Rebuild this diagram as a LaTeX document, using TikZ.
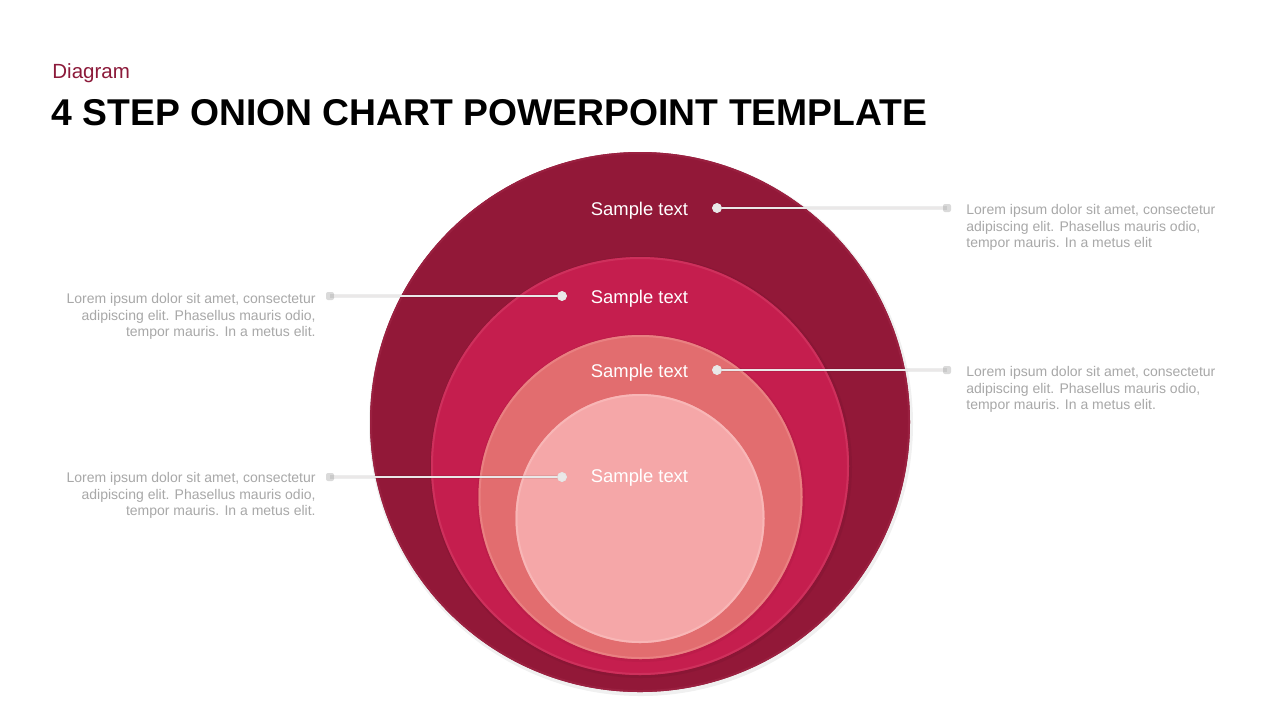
\documentclass[tikz,border=0pt]{standalone}
\usepackage{fontspec}
\setmainfont{Liberation Sans}
\definecolor{ringA}{RGB}{146,24,56}
\definecolor{ringArim}{RGB}{154,32,64}
\definecolor{ringB}{RGB}{197,30,78}
\definecolor{ringBrim}{RGB}{206,48,92}
\definecolor{ringC}{RGB}{226,109,111}
\definecolor{ringCrim}{RGB}{233,128,129}
\definecolor{ringD}{RGB}{245,167,168}
\definecolor{ringDrim}{RGB}{248,182,182}
\definecolor{titlered}{RGB}{140,26,58}
\definecolor{loremgray}{RGB}{168,168,168}
\definecolor{connline}{RGB}{234,232,232}
\definecolor{connend}{RGB}{218,218,218}
\tikzset{
  sample/.style={font=\fontsize{9.2pt}{11pt}\selectfont, text=white, inner sep=0pt, anchor=base},
  lorem/.style={font=\fontsize{7pt}{8.25pt}\selectfont, text=loremgray, inner sep=0pt},
  dotnode/.style={circle, fill=connline, draw=white!80!gray, line width=0.3pt, minimum size=4.5pt, inner sep=0pt},
  endnode/.style={rectangle, rounded corners=1pt, fill=connend, minimum size=4pt, inner sep=0pt},
  connector/.style={draw=connline, line width=1.4pt},
  connshadow/.style={draw=black, opacity=0.07, line width=2.4pt},
}
\begin{document}
\begin{tikzpicture}[x=0.5pt,y=-0.5pt]
\useasboundingbox (0,0) rectangle (1280,720);
\fill[white] (0,0) rectangle (1280,720);
% titles
\node[font=\fontsize{10.25pt}{12pt}\selectfont, text=titlered, anchor=base west, inner sep=0pt] (sub) at (52,78) {Diagram};
\node[font=\fontsize{18.65pt}{22pt}\selectfont\bfseries, text=black, anchor=base west, inner sep=0pt] (title) at (51,125) {4 STEP ONION CHART POWERPOINT TEMPLATE};
% rings
\fill[black, opacity=0.06] (641,424) circle (272);
\fill[ringA] (640,422) circle (270);
\draw[ringArim, line width=1pt] (640,422) circle (269);
\fill[black, opacity=0.05] (641,467) circle (211);
\fill[ringB] (640,466) circle (209);
\draw[ringBrim, line width=1pt] (640,466) circle (208);
\fill[black, opacity=0.04] (641,498) circle (164);
\fill[ringC] (640.5,497) circle (162);
\draw[ringCrim, line width=1pt] (640.5,497) circle (161);
\fill[ringD] (640,518.5) circle (124.5);
\draw[ringDrim, line width=1pt] (640,518.5) circle (123.5);
% sample texts
\node[sample] (s1) at (639.5,215) {Sample text};
\node[sample] (s2) at (639.5,303) {Sample text};
\node[sample] (s3) at (639.5,377) {Sample text};
\node[sample] (s4) at (639.5,482) {Sample text};
% connector ends
\node[dotnode] (d1) at (717,208) {};
\node[endnode] (e1) at (947,208) {};
\node[dotnode] (d2) at (562,296) {};
\node[endnode] (e2) at (330,296) {};
\node[dotnode] (d3) at (717,370) {};
\node[endnode] (e3) at (947,370) {};
\node[dotnode] (d4) at (562,477) {};
\node[endnode] (e4) at (330,477) {};
% connectors
\begin{scope}[yshift=-1.2pt]
\draw[connshadow] (d1.center) -- (e1.center);
\draw[connshadow] (d2.center) -- (e2.center);
\draw[connshadow] (d3.center) -- (e3.center);
\draw[connshadow] (d4.center) -- (e4.center);
\end{scope}
\draw[connector] (d1) -- (e1);
\draw[connector] (d2) -- (e2);
\draw[connector] (d3) -- (e3);
\draw[connector] (d4) -- (e4);
\node[dotnode] at (d1) {};
\node[dotnode] at (d2) {};
\node[dotnode] at (d3) {};
\node[dotnode] at (d4) {};
% lorem texts
\node[lorem, align=left, anchor=north west] (t1) at (966,204) {Lorem ipsum dolor sit amet, consectetur\\adipiscing elit. Phasellus mauris odio,\\tempor mauris. In a metus elit};
\node[lorem, align=right, anchor=north east] (t2) at (316,293) {Lorem ipsum dolor sit amet, consectetur\\adipiscing elit. Phasellus mauris odio,\\tempor mauris. In a metus elit.};
\node[lorem, align=left, anchor=north west] (t3) at (966,366) {Lorem ipsum dolor sit amet, consectetur\\adipiscing elit. Phasellus mauris odio,\\tempor mauris. In a metus elit.};
\node[lorem, align=right, anchor=north east] (t4) at (316,472) {Lorem ipsum dolor sit amet, consectetur\\adipiscing elit. Phasellus mauris odio,\\tempor mauris. In a metus elit.};
\end{tikzpicture}
\end{document}
